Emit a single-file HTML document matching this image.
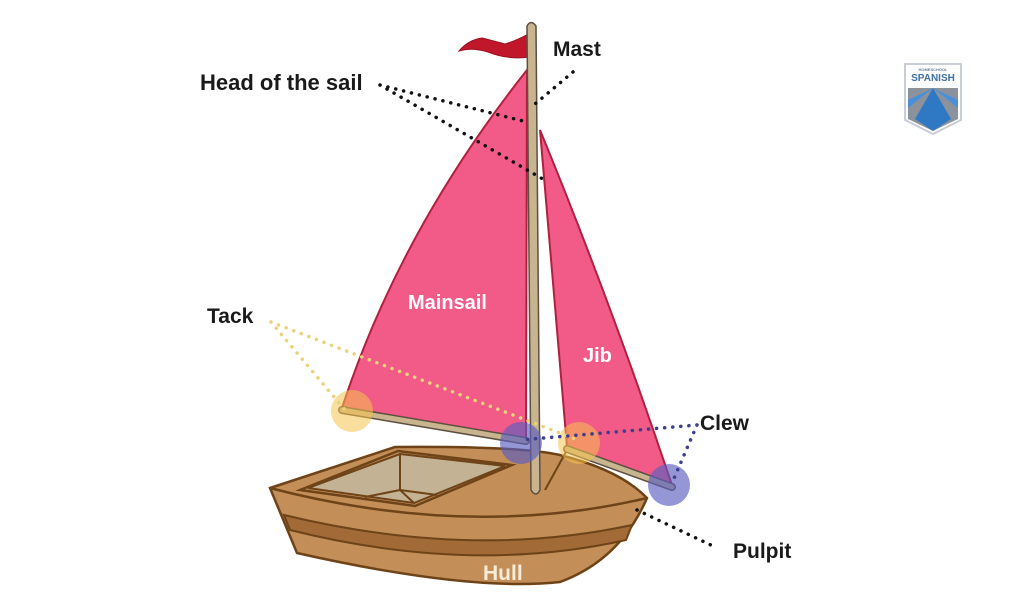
<!DOCTYPE html>
<html><head><meta charset="utf-8"><style>
html,body{margin:0;padding:0;background:#fff;}
svg{display:block;}
text{font-family:"Liberation Sans",sans-serif;font-weight:bold;}
</style></head><body>
<svg width="1024" height="614" viewBox="0 0 1024 614" xmlns="http://www.w3.org/2000/svg">
<rect width="1024" height="614" fill="#fff"/>
<!-- Hull -->
<path d="M270,488 L395,447 Q520,446 560,455 Q620,470 647,498 Q620,560 560,582 Q470,592 297,553 Z" fill="#c38e58" stroke="#6e4318" stroke-width="2.5"/>
<path d="M270,488 Q470,540 647,498" fill="none" stroke="#6e4318" stroke-width="2.5"/>
<path d="M284,515 Q470,560 632,525 L626,540 Q470,575 290,530 Z" fill="#a26a36" stroke="#6e4318" stroke-width="2"/>
<!-- cockpit -->
<path d="M300,490 L398,451 L512,465 L415,506 Z" fill="#c38e58" stroke="#6e4318" stroke-width="2.5"/>
<path d="M308,488 L400,454 L505,466 L414,503 Z" fill="#c4b294" stroke="#6e4318" stroke-width="2"/>
<path d="M400,454 L400,490 L414,503 M400,490 L365,497 M400,490 L437,495" fill="none" stroke="#6e4318" stroke-width="2"/>
<!-- jib stay -->
<line x1="567" y1="450" x2="545" y2="490" stroke="#6e4318" stroke-width="2"/>
<!-- mainsail -->
<path d="M527,70 Q400,230 342,408 L526,440 Z" fill="#f25a87" stroke="#b0213f" stroke-width="2"/>
<!-- jib -->
<path d="M540,130 Q610,300 672,485 L567,447 Q555,300 540,130 Z" fill="#f25a87" stroke="#b0213f" stroke-width="2"/>
<!-- flag -->
<path d="M530,33 Q518,40 505,44 Q490,40 482,38 Q468,40 459,51 Q472,47 488,52 Q508,60 530,57 Z" fill="#c0182a" stroke="#9a1020" stroke-width="1"/>
<!-- mast -->
<path d="M527,26 Q531,19 536,26 L540,490 Q536,498 531,490 Z" fill="#c8b48f" stroke="#5e5040" stroke-width="1.5"/>
<!-- booms -->
<line x1="342" y1="410" x2="526" y2="441" stroke="#5e5040" stroke-width="8" stroke-linecap="round"/>
<line x1="342" y1="410" x2="526" y2="441" stroke="#c8b48f" stroke-width="5" stroke-linecap="round"/>
<line x1="567" y1="449" x2="672" y2="487" stroke="#5e5040" stroke-width="8" stroke-linecap="round"/>
<line x1="567" y1="449" x2="672" y2="487" stroke="#c8b48f" stroke-width="5" stroke-linecap="round"/>
<!-- circles -->
<circle cx="352" cy="411" r="21" fill="#f5c24c" opacity="0.55"/>
<circle cx="521" cy="443" r="21" fill="#5a5ec0" opacity="0.65"/>
<circle cx="579" cy="443" r="21" fill="#f5c24c" opacity="0.55"/>
<circle cx="669" cy="485" r="21" fill="#5a5ec0" opacity="0.65"/>
<!-- dotted lines -->
<g fill="none" stroke-linecap="round" stroke-width="3.5" stroke-dasharray="0.1 8">
<path d="M380,85 L527,122 M380,85 L548,182 M573,72 L535,104 M637,510 L715,547" stroke="#111"/>
<path d="M271,322 L345,410 M271,322 L578,440" stroke="#ead27a"/>
<path d="M697,425 L520,440 M697,425 L672,483" stroke="#3c3f8c"/>
</g>
<!-- labels -->
<text x="200" y="90" font-size="22" fill="#1a1a1a">Head of the sail</text>
<text x="553" y="56" font-size="21" fill="#1a1a1a">Mast</text>
<text x="207" y="323" font-size="21" fill="#1a1a1a">Tack</text>
<text x="408" y="309" font-size="20" fill="#fff">Mainsail</text>
<text x="583" y="362" font-size="20" fill="#fff">Jib</text>
<text x="700" y="430" font-size="21" fill="#1a1a1a">Clew</text>
<text x="733" y="558" font-size="21" fill="#1a1a1a">Pulpit</text>
<text x="483" y="580" font-size="21" fill="#f6ecd8">Hull</text>
<!-- logo -->
<path d="M905,64 L961,64 L961,120 L933,134 L905,120 Z" fill="#fff" stroke="#c9ced6" stroke-width="2"/>
<text x="933" y="71" font-size="4" text-anchor="middle" fill="#6b7d9a" font-weight="normal">HOMESCHOOL</text>
<text x="933" y="81" font-size="10" text-anchor="middle" fill="#3f6fa8" font-family="Liberation Serif,serif" font-weight="normal">SPANISH</text>
<path d="M908,88 L958,88 L958,119 L933,131 L908,119 Z" fill="#8c929c"/>
<path d="M933,88 L915,119 L933,131 L951,119 Z" fill="#2f78c4"/>
<path d="M933,88 L908,100 L908,108 Z M933,88 L958,100 L958,108 Z" fill="#4a90d8"/>
</svg>
</body></html>
